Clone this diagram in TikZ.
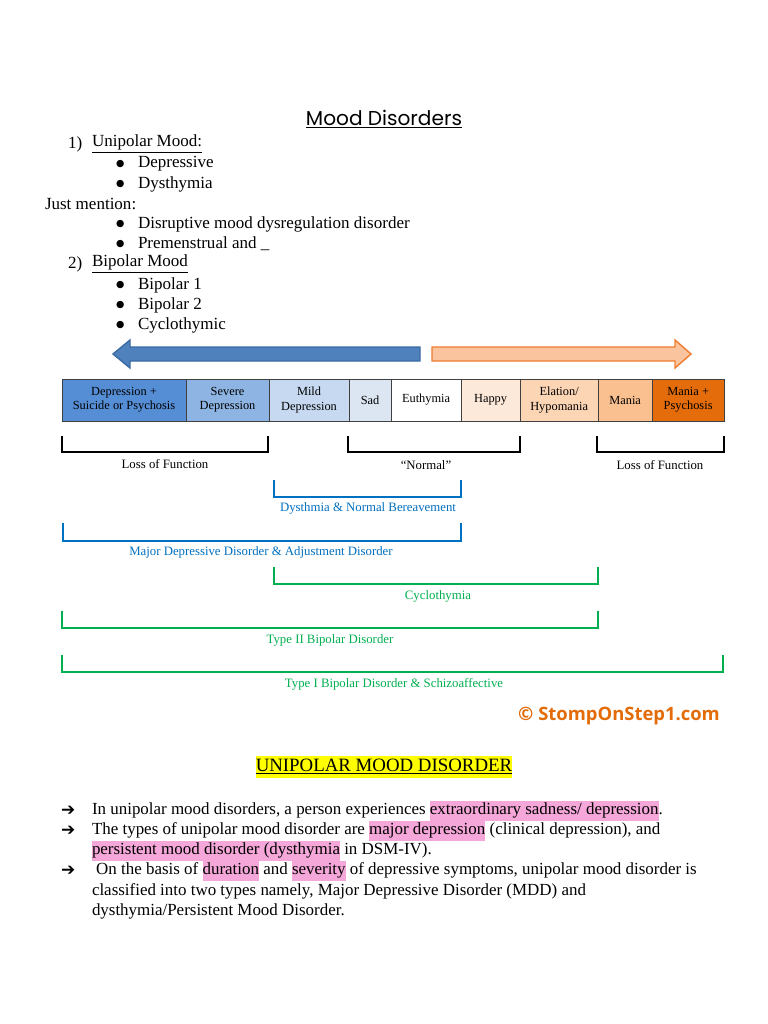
\documentclass[tikz,border=0pt]{standalone}
\usepackage{fontspec}
\setmainfont{Liberation Serif}
\newfontfamily\titlefont{Poppins}
\newfontfamily\markfont{Open Sans}
\newfontfamily\symfont{DejaVu Sans}
\usetikzlibrary{positioning}

\definecolor{depA}{HTML}{558ED5}
\definecolor{depB}{HTML}{8DB4E2}
\definecolor{depC}{HTML}{C6D9F1}
\definecolor{depD}{HTML}{DCE6F2}
\definecolor{manA}{HTML}{FDE9D9}
\definecolor{manB}{HTML}{FCD5B5}
\definecolor{manC}{HTML}{FAC090}
\definecolor{manD}{HTML}{E46C0A}
\definecolor{arrblue}{HTML}{4F81BD}
\definecolor{arrblueline}{HTML}{3B6BA5}
\definecolor{arrorange}{HTML}{F9C49E}
\definecolor{arrorangeline}{HTML}{ED7D31}
\definecolor{brblue}{HTML}{0070C0}
\definecolor{brgreen}{HTML}{00B050}
\definecolor{markorange}{HTML}{E36C09}
\definecolor{hlpink}{HTML}{F4A7D8}
\definecolor{hlyellow}{HTML}{FFFF00}

\newcommand{\px}{0.7113pt}
\newcommand{\hlmark}[1]{{\setlength{\fboxsep}{0pt}\colorbox{hlpink}{\strut #1}}}

\begin{document}
\begin{tikzpicture}[x=0.025cm, y=-0.025cm,
    every node/.style={inner sep=0pt, outer sep=0pt},
    listtext/.style={anchor=west, font=\fontsize{12.1}{14}\selectfont},
    dot/.style={anchor=west, font=\symfont\fontsize{6.8}{9}\selectfont},
    moodbox/.style={draw=black!75, line width=0.5pt, minimum height=42*\px, align=center,
        font=\fontsize{8.8}{10.2}\selectfont},
    blkbr/.style={draw=black, line width=2pt},
    bluebr/.style={draw=brblue, line width=2pt},
    greenbr/.style={draw=brgreen, line width=2pt},
    brlabel/.style={font=\fontsize{9.1}{11}\selectfont},
    bodytext/.style={anchor=west, font=\fontsize{12.05}{14}\selectfont},
    pointer/.style={anchor=west, font=\symfont\fontsize{12}{14}\selectfont}]

\fill[white] (0,0) rectangle (768,1024);
\useasboundingbox (0,0) rectangle (768,1024);

% Title and list
\node (title) at (384,119) {\titlefont\fontsize{14.3}{17}\selectfont\underline{Mood Disorders}};

\node[listtext] (num1) at (68,144) {1)};
\node[listtext] (uni) at (92,144) {\underline{Unipolar Mood:}};
\node[dot] (b1) at (116,164) {●};
\node[listtext] (depr) at (138,164) {Depressive};
\node[dot] (b2) at (116,184) {●};
\node[listtext] (dyst) at (138,184) {Dysthymia};
\node[listtext] (just) at (45,204) {Just mention:};
\node[dot] (b3) at (116,224) {●};
\node[listtext] (dmdd) at (138,224) {Disruptive mood dysregulation disorder};
\node[dot] (b4) at (116,244) {●};
\node[listtext] (pmdd) at (138,244) {Premenstrual and \_};
\node[listtext] (num2) at (68,264) {2)};
\node[listtext] (bip) at (92,264) {\underline{Bipolar Mood}};
\node[dot] (b5) at (116,285) {●};
\node[listtext] (bip1) at (138,285) {Bipolar 1};
\node[dot] (b6) at (116,305) {●};
\node[listtext] (bip2) at (138,305) {Bipolar 2};
\node[dot] (b7) at (116,325) {●};
\node[listtext] (cyc) at (138,325) {Cyclothymic};

% Direction arrows
\filldraw[fill=arrblue, draw=arrblueline, line width=1pt]
    (420,347) -- (130,347) -- (130,340) -- (113,354) -- (130,368) -- (130,361) -- (420,361) -- cycle;
\filldraw[fill=arrorange, draw=arrorangeline, line width=1pt]
    (432,347) -- (675,347) -- (675,340) -- (691,354) -- (675,368) -- (675,361) -- (432,361) -- cycle;

% Mood spectrum
\node[moodbox, fill=depA, minimum width=124*\px, anchor=west] (suic) at (62,400) {Depression +\\Suicide or Psychosis};
\node[moodbox, fill=depB, minimum width=83*\px, right=0pt of suic] (sev) {Severe\\Depression};
\node[moodbox, fill=depC, minimum width=80*\px, right=0pt of sev] (mild) {Mild\\Depression};
\node[moodbox, fill=depD, minimum width=42*\px, right=0pt of mild] (sad) {Sad};
\node[moodbox, fill=white, minimum width=70*\px, right=0pt of sad] (euth) {Euthymia};
\node[moodbox, fill=manA, minimum width=59*\px, right=0pt of euth] (happy) {Happy};
\node[moodbox, fill=manB, minimum width=78*\px, right=0pt of happy] (hypo) {Elation/\\Hypomania};
\node[moodbox, fill=manC, minimum width=54*\px, right=0pt of hypo] (mania) {Mania};
\node[moodbox, fill=manD, minimum width=72*\px, right=0pt of mania] (psych) {Mania +\\Psychosis};

% Black brackets
\draw[blkbr] (62,436) -- (62,452) -- (268,452) -- (268,436);
\node[brlabel] (lossl) at (165,464) {Loss of Function};
\draw[blkbr] (348,436) -- (348,452) -- (520,452) -- (520,436);
\node[brlabel] (normal) at (426,465) {``Normal''};
\draw[blkbr] (597,436) -- (597,452) -- (724,452) -- (724,436);
\node[brlabel] (lossr) at (660,465) {Loss of Function};

% Blue brackets
\draw[bluebr] (274,480) -- (274,497) -- (461,497) -- (461,480);
\node[brlabel, text=brblue] (bereav) at (368,508) {Dysthmia \& Normal Bereavement};
\draw[bluebr] (63,523) -- (63,541) -- (461,541) -- (461,523);
\node[brlabel, text=brblue] (mdd) at (261,552) {Major Depressive Disorder \& Adjustment Disorder};

% Green brackets
\draw[greenbr] (274,567) -- (274,584) -- (598,584) -- (598,567);
\node[brlabel, text=brgreen] (cyclo) at (438,596) {Cyclothymia};
\draw[greenbr] (62,611) -- (62,628) -- (598,628) -- (598,611);
\node[brlabel, text=brgreen] (type2) at (330,640) {Type II Bipolar Disorder};
\draw[greenbr] (62,655) -- (62,672) -- (723,672) -- (723,655);
\node[brlabel, text=brgreen] (type1) at (394,684) {Type I Bipolar Disorder \& Schizoaffective};

\node[text=markorange] (mark) at (619,716) {\markfont\bfseries\fontsize{13.1}{15}\selectfont \textcopyright{} StompOnStep1.com};

% Unipolar section
\node (uhead) at (384,767) {\fontsize{13.4}{16}\selectfont{\setlength{\fboxsep}{0pt}\colorbox{hlyellow}{\strut\underline{UNIPOLAR MOOD DISORDER}}}};

\node[pointer] (a1) at (61,811) {➔};
\node[bodytext] (l1) at (92,811) {In unipolar mood disorders, a person experiences \hlmark{extraordinary sadness/ depression}.};
\node[pointer] (a2) at (61,831) {➔};
\node[bodytext] (l2) at (92,831) {The types of unipolar mood disorder are \hlmark{major depression} (clinical depression), and};
\node[bodytext] (l3) at (92,851) {\hlmark{persistent mood disorder (dysthymia} in DSM-IV).};
\node[pointer] (a3) at (61,871) {➔};
\node[bodytext] (l4) at (92,871) {\ On the basis of \hlmark{duration} and \hlmark{severity} of depressive symptoms, unipolar mood disorder is};
\node[bodytext] (l5) at (92,891) {classified into two types namely, Major Depressive Disorder (MDD) and};
\node[bodytext] (l6) at (92,911) {dysthymia/Persistent Mood Disorder.};

\end{tikzpicture}
\end{document}
